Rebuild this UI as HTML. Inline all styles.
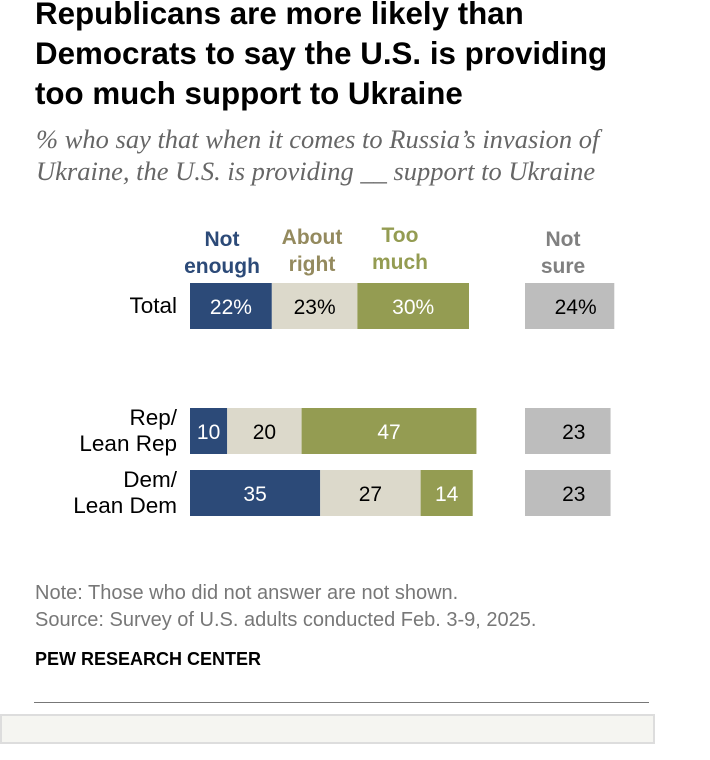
<!DOCTYPE html>
<html><head><meta charset="utf-8"><style>
body{margin:0;width:710px;height:740px;background:#fff;position:relative;overflow:hidden;font-family:"Liberation Sans",sans-serif}
.t{position:absolute;white-space:nowrap}
</style></head><body>
<div class="t" style="left:35px;top:-6px;font-size:31.3px;font-weight:bold;line-height:40px;color:#000">Republicans are more likely than<br>Democrats to say the U.S. is providing<br>too much support to Ukraine</div>
<div class="t" style="left:36px;top:123px;font-family:'Liberation Serif',serif;font-style:italic;font-size:26.5px;line-height:32px;color:#666">% who say that when it comes to Russia’s invasion of<br>Ukraine, the U.S. is providing __ support to Ukraine</div>
<svg id="c" width="710" height="560" style="position:absolute;left:0;top:200px"></svg>
<div class="t" style="left:35px;top:582px;font-size:20px;color:#777">Note: Those who did not answer are not shown.</div>
<div class="t" style="left:35px;top:609px;font-size:20px;color:#777">Source: Survey of U.S. adults conducted Feb. 3-9, 2025.</div>
<div class="t" style="left:35px;top:649px;font-size:18px;font-weight:bold;color:#000">PEW RESEARCH CENTER</div>
<div style="position:absolute;left:34px;top:702px;width:615px;height:1px;background:#777"></div>
<div style="position:absolute;left:0;top:714px;width:655px;height:30px;background:#f5f5f1;border:2px solid #ddd;box-sizing:border-box"></div>
<script>
const categories=["Total","Rep/Lean Rep","Dem/Lean Dem"];
const notEnough=[22,10,35];
const aboutRight=[23,20,27];
const tooMuch=[30,47,14];
const notSure=[24,23,23];
const showPct=[true,false,false];
const svg=document.getElementById('c');
const NS='http://www.w3.org/2000/svg';
const x0=190,scale=3.72,nsX=525;
const rowY=[83,208,270],bh=46;
function add(tag,at,txt){const e=document.createElementNS(NS,tag);for(const k in at)e.setAttribute(k,at[k]);if(txt!=null)e.textContent=txt;svg.appendChild(e);return e;}
const heads=[["Not","enough",222,"#2c4a78"],["About","right",312,"#948a5e"],["Too","much",400,"#949c52"],["Not","sure",563,"#808080"]];
const hy=[[46,73],[44,71],[42,69],[46,73]];
heads.forEach((h,i)=>{
const t=add('text',{x:h[2],y:hy[i][0],'text-anchor':'middle','font-size':21,'font-weight':'bold',fill:h[3],'font-family':'Liberation Sans'},h[0]);

const t2=add('text',{x:h[2],y:hy[i][1],'text-anchor':'middle','font-size':21,'font-weight':'bold',fill:h[3],'font-family':'Liberation Sans'},h[1]);

});
const series=[[notEnough,"#2c4a78","#fff"],[aboutRight,"#dcd9cb","#000"],[tooMuch,"#949c52","#fff"]];
categories.forEach((c,i)=>{
const y=rowY[i];
const parts=c.split('/');
if(parts.length===1){const l=add('text',{x:177,y:y+30,'text-anchor':'end','font-size':22.5,fill:'#000'},c);}
else{const l=add('text',{x:177,y:y+17,'text-anchor':'end','font-size':22.5,fill:'#000'},parts[0]+'/');
const l2=add('text',{x:177,y:y+43,'text-anchor':'end','font-size':22.5,fill:'#000'},parts[1]);}
let x=x0;
series.forEach((s,j)=>{
const w=s[0][i]*scale;
const r=add('rect',{x:x,y:y,width:w,height:bh,fill:s[1]});

const t=add('text',{x:x+w/2,y:y+31,'text-anchor':'middle','font-size':21,fill:s[2]},s[0][i]+(showPct[i]?'%':''));

x+=w;});
const w=notSure[i]*scale;
const r=add('rect',{x:nsX,y:y,width:w,height:bh,fill:'#bdbdbd'});

const t=add('text',{x:nsX+w/2+6,y:y+31,'text-anchor':'middle','font-size':21,fill:'#000'},notSure[i]+(showPct[i]?'%':''));

});
</script>
</body></html>
